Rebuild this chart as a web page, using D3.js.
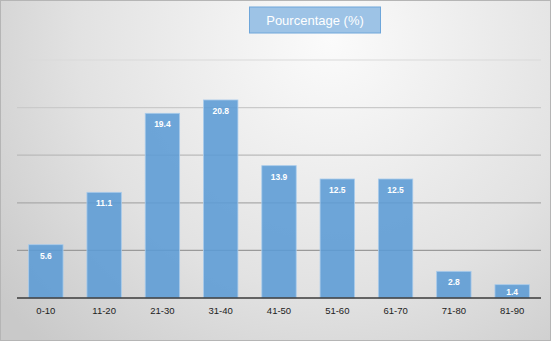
<!DOCTYPE html>
<html>
<head>
<meta charset="utf-8">
<script src="https://cdn.jsdelivr.net/npm/d3@7"></script>
<style>
  html, body { margin: 0; padding: 0; background: #fff; }
  svg { display: block; font-family: "Liberation Sans", Arial, sans-serif; }
</style>
</head>
<body>
<svg id="chart"></svg>
<script>
// données
var categories = ["0-10", "11-20", "21-30", "31-40", "41-50", "51-60", "61-70", "71-80", "81-90"];
var pourcentage = [5.6, 11.1, 19.4, 20.8, 13.9, 12.5, 12.5, 2.8, 1.4];
var yTicks = [0, 5, 10, 15, 20, 25];
var titre = "Pourcentage (%)";

var width = 552, height = 342;
var marginTop = 60, marginRight = 11, marginBottom = 44, marginLeft = 17;

var svg = d3.select("#chart")
  .attr("width", width)
  .attr("height", height);

// fond dégradé
var defs = svg.append("defs");
var grad = defs.append("radialGradient")
  .attr("id", "bg")
  .attr("gradientUnits", "userSpaceOnUse")
  .attr("cx", 330).attr("cy", 40).attr("r", 420);
grad.append("stop").attr("offset", "0%").attr("stop-color", "#fbfbfb");
grad.append("stop").attr("offset", "60%").attr("stop-color", "#e2e2e2");
grad.append("stop").attr("offset", "100%").attr("stop-color", "#c9c9c9");

svg.append("rect")
  .attr("x", 0.5).attr("y", 0.5)
  .attr("width", width - 2).attr("height", height - 2)
  .attr("fill", "url(#bg)")
  .attr("stroke", "#b5b5b5");

// échelles
var x = d3.scaleBand()
  .domain(categories)
  .range([marginLeft, width - marginRight])
  .paddingInner(0.41)
  .paddingOuter(0.2);
var y = d3.scaleLinear()
  .domain([0, 25])
  .range([height - marginBottom, marginTop]);

// lignes de grille, plus foncées vers le bas
var gridColor = d3.scaleLinear().domain([marginTop, height - marginBottom]).range(["#dadada", "#8a8a8a"]);
svg.append("g")
  .selectAll("line")
  .data(yTicks.slice(1))
  .join("line")
  .attr("x1", marginLeft)
  .attr("x2", width - marginRight)
  .attr("y1", d => y(d))
  .attr("y2", d => y(d))
  .attr("stroke", d => gridColor(y(d)))
  .attr("stroke-width", 1.2);

// barres
svg.append("g")
  .selectAll("rect")
  .data(pourcentage)
  .join("rect")
  .attr("x", (d, i) => x(categories[i]))
  .attr("y", d => y(d))
  .attr("width", x.bandwidth())
  .attr("height", d => y(0) - y(d))
  .attr("fill", "#5b9bd5")
  .attr("fill-opacity", 0.88)
  .attr("stroke", "#a9cbeb")
  .attr("stroke-width", 0.8);

// étiquettes de valeurs
svg.append("g")
  .selectAll("text")
  .data(pourcentage)
  .join("text")
  .attr("x", (d, i) => x(categories[i]) + x.bandwidth() / 2)
  .attr("y", d => Math.min(y(d) + 14, y(0) - 3))
  .attr("text-anchor", "middle")
  .attr("fill", "#fff")
  .attr("font-size", 8.5)
  .attr("font-weight", "bold")
  .text(d => d);

// axe x
var xAxis = d3.axisBottom(x).tickSize(0).tickPadding(9);
svg.append("g")
  .attr("transform", `translate(0,${y(0)})`)
  .call(xAxis)
  .call(g => g.select(".domain").attr("stroke", "#3a3a3a").attr("stroke-width", 1.6)
    .attr("d", `M${marginLeft},0H${width - marginRight}`))
  .call(g => g.selectAll("text").attr("font-size", 9.5).attr("fill", "#222")
    .attr("font-family", "'Liberation Sans', Arial, sans-serif"));

// titre dans une boîte
var tg = svg.append("g");
tg.append("rect")
  .attr("x", 249.5).attr("y", 7)
  .attr("width", 131).attr("height", 26)
  .attr("fill", "#9dc3e6")
  .attr("stroke", "#6ea6da");
tg.append("text")
  .attr("x", 315).attr("y", 25)
  .attr("text-anchor", "middle")
  .attr("fill", "#fff")
  .attr("font-size", 13)
  .text(titre);
</script>
</body>
</html>
